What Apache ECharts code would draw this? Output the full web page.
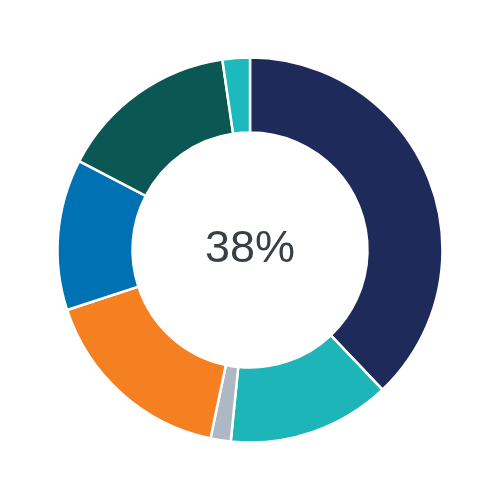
<!DOCTYPE html>
<html>
<head>
<meta charset="utf-8">
<script src="https://cdn.jsdelivr.net/npm/echarts@6/dist/echarts.min.js"></script>
<style>
    html, body { margin: 0; padding: 0; background: #fff; }
    #chart { width: 500px; height: 500px; }
</style>
</head>
<body>
<div id="chart"></div>
<script>
// 各扇区名称与数值（顺时针，从12点方向开始）
let names = ["A", "B", "C", "D", "E", "F", "G"];
let values = [38, 13.7, 1.7, 16.7, 12.7, 15.1, 2.3];
let colors = ['#1e2b5a', '#1db5b7', '#adb8c4', '#f58021', '#0072b3', '#0b5754', '#1cb9bd'];
let centerText = "38%";

function donut() {
    let mychart = echarts.init(document.getElementById("chart"));
    let data = [];
    for (let i in names) {
        data.push({ name: names[i], value: values[i] });
    }
    let options = {
        animation: false,
        color: colors,
        title: {
            text: centerText,
            left: "center",
            top: "middle",
            textStyle: {
                fontFamily: "Liberation Sans",
                fontSize: 45,
                fontWeight: "normal",
                color: "#3a3f47"
            }
        },
        series: [{
            type: "pie",
            center: ["50%", "50%"],
            radius: ["47%", "77%"],
            startAngle: 90,
            clockwise: true,
            label: { show: false },
            labelLine: { show: false },
            itemStyle: {
                borderColor: "#fff",
                borderWidth: 2.5
            },
            data: data
        }]
    };
    mychart.setOption(options);
}
donut();
</script>
</body>
</html>
